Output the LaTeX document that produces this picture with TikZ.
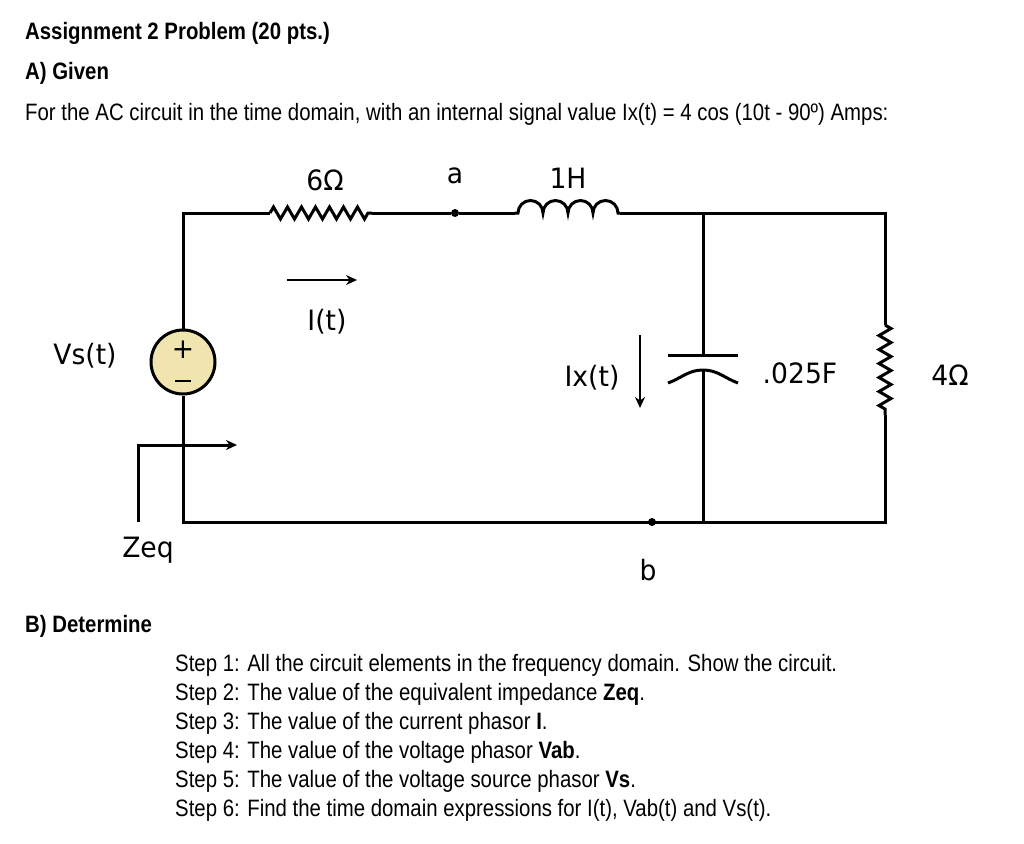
\documentclass[tikz,border=0pt]{standalone}
\usepackage{fontspec}
\setmainfont{Liberation Sans}[FakeStretch=0.86]
\newfontfamily\circfont{DejaVu Sans}[FakeStretch=0.95]
\usetikzlibrary{positioning,arrows.meta,decorations.pathmorphing}
\definecolor{srcfill}{RGB}{240,228,175}

\begin{document}
\begin{tikzpicture}[x=1pt,y=-1pt,
        wire/.style={line width=3pt},
        res/.style={wire, decorate, decoration={zigzag, segment length=14pt, amplitude=6pt}},
        cur/.style={line width=2.4pt, -{Stealth[length=11pt,width=10pt]}},
        lbl/.style={font=\circfont\fontsize{28}{30}\selectfont},
        txt/.style={anchor=base west, inner sep=0pt, font=\fontsize{23.7}{28}\selectfont},
        dot/.style={circle, fill, inner sep=0pt, minimum size=8pt}
    ]
        \useasboundingbox (0,0) rectangle (1024,843);

        % text
        \node[txt] (title) at (25,40) {\bfseries Assignment 2 Problem (20 pts.)};
        \node[txt] (given) at (25,79) {\bfseries A) Given};
        \node[txt] (intro) at (25,120) {For the AC circuit in the time domain, with an internal signal value Ix(t) = 4 cos (10t - 90º) Amps:};
        \node[txt] (det)   at (25,632) {\bfseries B) Determine};
        \node[txt] (s1) at (175,671) {Step 1: All the circuit elements in the frequency domain. Show the circuit.};
        \node[txt] (s2) at (175,700) {Step 2: The value of the equivalent impedance \textbf{Zeq}.};
        \node[txt] (s3) at (175,729) {Step 3: The value of the current phasor \textbf{I}.};
        \node[txt] (s4) at (175,758) {Step 4: The value of the voltage phasor \textbf{Vab}.};
        \node[txt] (s5) at (175,787) {Step 5: The value of the voltage source phasor \textbf{Vs}.};
        \node[txt] (s6) at (175,816) {Step 6: Find the time domain expressions for I(t), Vab(t) and Vs(t).};

        % circuit corners
        \coordinate (tl) at (183,213);
        \coordinate (bl) at (183,522);
        \coordinate (tr) at (885,213);
        \coordinate (br) at (885,522);
        \coordinate (ct) at (703,213);
        \coordinate (cb) at (703,522);
        \coordinate (r1a) at (270,213);
        \coordinate (r1b) at (372,213);
        \coordinate (l1a) at (515,213);
        \coordinate (l1b) at (620,213);
        \coordinate (r2a) at (885,325);
        \coordinate (r2b) at (885,415);
        \node[dot] (a) at (455,213) {};
        \node[dot] (b) at (652,522) {};
        \node[circle, draw, line width=3pt, fill=srcfill, minimum size=64pt, inner sep=0pt] (src) at (183,362) {};
        \node[font=\circfont\fontsize{28}{28}\selectfont] at (183,350) {+};
        \draw[line width=2.6pt] (175,381) -- (191,381);

        % wires
        \draw[wire] (src.north) -- (tl) -- (r1a);
        \draw[res] (r1a) -- (r1b);
        \draw[wire] (r1b) -- (a) -- (l1a);
        \draw[wire] (l1a) -- ++(3,0) \foreach \i in {0,1,2,3} {arc[start angle=180, end angle=360, radius=12.5]} -- (l1b);
        \draw[wire] (l1b) -- (tr) -- (r2a);
        \draw[res] (r2a) -- (r2b);
        \draw[wire] (r2b) -- (br) -- (bl) -- (src.south);
        \draw[wire] (ct) -- (703,355);
        \draw[wire] (668,355) -- (738,355);
        \draw[wire] (668,383) to[out=20,in=180] (703,370) to[out=0,in=160] (738,383);
        \draw[wire] (703,370) -- (cb);

        % currents
        \coordinate (i0) at (287,280);
        \coordinate (i1) at (357,280);
        \draw[cur] (i0) -- (i1);
        \coordinate (x0) at (640,335);
        \coordinate (x1) at (640,408);
        \draw[cur] (x0) -- (x1);
        \coordinate (z0) at (138,522);
        \coordinate (z1) at (237,445);
        \draw[wire, -{Stealth[length=11pt,width=10pt]}] (z0) |- (z1);

        % labels
        \node[lbl] at (325,180) {6Ω};
        \node[lbl] at (455,176) {a};
        \node[lbl] at (568,178) {1H};
        \node[lbl] at (327,322) {I(t)};
        \node[lbl] at (85,356) {Vs(t)};
        \node[lbl] at (592,378) {Ix(t)};
        \node[lbl] at (800,373) {.025F};
        \node[lbl] at (950,375) {4Ω};
        \node[lbl] at (148,550) {Zeq};
        \node[lbl] at (648,570) {b};
    \end{tikzpicture}
\end{document}
